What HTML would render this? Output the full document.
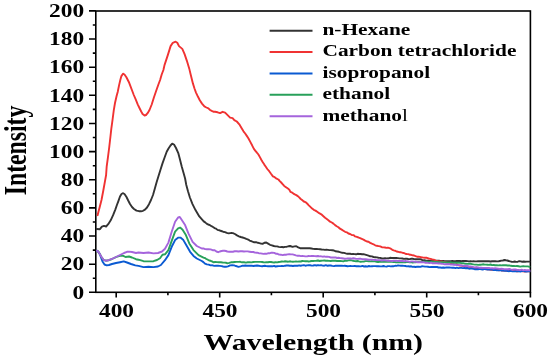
<!DOCTYPE html>
<html><head><meta charset="utf-8"><style>
html,body{margin:0;padding:0;background:#fff;width:550px;height:359px;overflow:hidden}
svg{display:block}
.t{font-family:"Liberation Serif","Times New Roman",serif;font-weight:bold;fill:#000}
</style></head><body>
<svg width="550" height="359" viewBox="0 0 550 359">
<rect x="95.8" y="11.0" width="434.6" height="281.3" fill="none" stroke="#000" stroke-width="1.6"/>
<path d="M89.0 292.3H95.8 M92.8 278.2H95.8 M89.0 264.2H95.8 M92.8 250.1H95.8 M89.0 236.0H95.8 M92.8 222.0H95.8 M89.0 207.9H95.8 M92.8 193.8H95.8 M89.0 179.7H95.8 M92.8 165.7H95.8 M89.0 151.6H95.8 M92.8 137.5H95.8 M89.0 123.5H95.8 M92.8 109.4H95.8 M89.0 95.3H95.8 M92.8 81.2H95.8 M89.0 67.2H95.8 M92.8 53.1H95.8 M89.0 39.0H95.8 M92.8 25.0H95.8 M89.0 10.9H95.8 M116.2 292.3V297.6 M219.7 292.3V297.6 M323.2 292.3V297.6 M426.7 292.3V297.6 M530.4 292.3V297.6 M167.9 292.3V295.2 M271.4 292.3V295.2 M374.9 292.3V295.2 M478.4 292.3V295.2" stroke="#000" stroke-width="1.6" fill="none"/>
<polyline points="96.7,229.0 99.9,229.2 101.9,226.6 104.0,225.9 106.1,226.5 108.2,224.2 110.7,220.3 113.1,215.2 115.3,209.6 117.0,204.8 118.3,201.3 120.0,196.5 121.5,194.0 122.8,193.2 124.5,194.0 126.5,197.0 128.2,200.5 130.0,204.0 132.0,207.0 134.0,209.0 136.5,210.6 139.0,211.2 141.0,211.3 143.0,210.8 145.0,209.6 147.0,207.5 149.0,204.2 151.0,200.0 153.0,195.0 155.0,188.0 156.6,182.3 158.3,176.8 160.4,170.0 162.5,163.4 164.6,157.5 166.7,151.7 168.5,148.5 170.5,145.5 172.2,143.7 174.0,144.5 176.0,148.0 178.4,153.4 180.1,160.0 181.8,166.8 183.5,172.7 185.1,178.5 186.3,185.0 188.0,191.3 189.9,197.5 192.4,203.8 195.5,210.1 199.3,216.4 203.7,221.4 205.2,222.4 206.6,223.6 208.1,224.5 210.0,225.2 211.5,226.2 213.0,227.0 214.5,228.1 216.0,228.6 217.5,229.9 219.4,230.3 221.2,231.0 223.1,231.7 225.0,232.1 226.8,232.9 228.7,233.4 230.1,233.1 231.5,233.0 232.9,233.1 234.9,234.0 237.0,235.4 238.9,236.3 240.7,237.0 242.6,237.5 244.5,238.1 246.3,238.9 248.2,239.6 249.6,240.6 251.0,241.0 252.4,241.7 254.2,242.3 256.1,242.2 257.9,242.8 259.4,243.1 261.0,243.6 262.5,243.8 264.4,242.8 266.3,242.5 268.1,243.6 270.0,244.8 271.9,245.3 273.8,246.0 275.5,246.4 277.1,246.4 278.8,246.9 280.4,247.1 282.0,247.0 283.5,247.2 285.1,246.9 286.8,246.7 288.4,246.3 290.1,246.0 292.6,246.9 294.5,246.4 296.3,246.3 298.2,247.4 300.1,248.2 301.7,248.2 303.2,248.1 304.8,248.2 306.4,248.2 308.1,248.1 309.7,248.2 311.4,248.5 313.2,248.9 314.9,249.0 316.7,248.9 318.4,249.1 320.0,249.3 321.7,249.5 323.4,249.6 324.9,249.9 326.4,249.7 327.9,249.9 329.3,250.1 330.8,250.1 332.3,250.3 334.0,250.5 335.6,251.3 337.3,251.5 339.0,251.8 340.7,252.3 342.4,252.8 344.0,252.9 345.7,253.4 347.2,253.7 348.7,253.6 350.1,253.8 351.6,254.1 353.1,253.9 354.6,254.1 356.1,254.3 357.6,253.8 359.1,254.0 360.5,254.0 362.0,254.3 363.5,254.1 365.2,254.6 366.9,255.1 368.5,255.6 370.2,256.3 371.9,256.4 373.5,257.0 375.2,257.2 376.9,257.4 378.5,257.7 380.2,257.9 381.9,258.5 383.5,258.5 385.1,258.3 386.8,258.4 388.4,258.3 390.0,257.8 391.6,258.0 393.2,258.0 394.8,257.9 396.3,258.0 397.9,258.1 399.5,258.4 401.0,258.4 402.4,258.5 403.9,258.9 405.3,258.8 406.8,258.8 408.3,259.0 409.7,259.1 411.2,258.8 412.6,258.8 414.1,259.1 415.6,259.2 417.0,259.1 418.4,259.3 419.9,259.1 421.4,259.5 422.8,260.5 424.2,260.3 425.7,260.5 427.2,260.6 428.6,260.8 430.1,261.0 431.5,260.8 433.0,260.8 434.4,261.0 435.9,260.8 437.4,260.6 438.8,260.6 440.3,261.0 441.7,261.0 443.2,261.0 444.7,261.2 446.2,261.2 447.8,261.1 449.3,261.1 450.8,261.2 452.3,260.9 453.8,261.2 455.3,261.2 456.9,261.0 458.4,261.0 459.9,261.0 461.4,261.2 462.9,260.9 464.4,261.0 465.9,260.9 467.5,261.1 469.0,261.4 470.5,261.2 472.0,261.4 473.5,261.3 475.0,261.4 476.6,261.4 478.1,261.2 479.7,261.3 481.2,261.2 482.8,261.1 484.3,261.2 485.9,261.1 487.5,261.3 489.0,261.3 490.6,261.5 492.1,261.2 493.7,261.2 495.2,261.1 496.8,261.4 498.3,261.4 499.8,261.0 501.4,260.6 502.9,260.5 504.4,260.0 505.9,260.3 507.3,260.5 508.8,261.0 510.3,261.4 511.7,261.7 513.2,261.9 514.7,261.5 516.2,261.9 517.8,261.7 519.3,261.2 520.8,261.4 522.2,261.7 523.7,261.5 525.1,261.8 526.6,261.6 528.0,261.6 529.5,261.6" fill="none" stroke="#333333" stroke-width="1.9" stroke-linejoin="round" stroke-linecap="round"/>
<polyline points="97.6,215.2 98.6,211.3 99.6,207.5 101.5,200.0 103.4,190.0 105.0,181.2 106.1,175.0 106.7,166.3 107.9,157.6 109.2,147.5 110.4,137.0 111.3,128.9 112.5,120.1 113.8,110.1 115.0,103.0 116.6,96.0 117.7,92.0 119.1,85.1 120.3,80.0 121.4,76.1 123.0,73.7 124.5,74.5 126.4,77.3 129.2,82.8 131.9,90.0 133.8,95.0 135.8,99.7 137.7,104.3 139.7,108.5 141.2,111.5 142.6,113.9 144.6,115.5 146.0,115.0 147.6,113.2 149.5,110.0 151.7,104.5 153.9,97.5 156.2,90.8 158.4,84.5 160.1,80.0 161.7,74.5 163.4,70.0 164.5,65.1 167.8,55.1 170.6,46.1 172.8,42.8 175.6,41.7 177.3,42.8 179.0,46.1 182.3,48.9 184.5,53.9 186.8,60.6 189.5,69.6 190.6,74.2 192.9,83.4 194.4,88.2 196.0,92.6 198.0,96.8 199.8,100.3 202.0,103.6 204.4,106.4 206.4,107.5 208.4,108.4 210.1,110.0 211.7,110.9 213.4,111.7 215.1,111.8 217.6,112.3 220.1,113.1 222.6,111.8 225.1,112.6 227.6,115.1 230.1,117.6 232.6,118.1 234.3,120.1 236.8,121.5 239.3,124.3 241.8,128.5 243.5,131.3 245.2,133.5 246.8,135.9 248.5,138.5 250.3,141.9 252.1,145.3 253.9,148.9 255.4,150.8 256.9,152.7 258.4,154.5 259.9,157.1 261.3,159.7 262.8,162.3 264.3,164.6 265.8,166.7 267.3,169.0 269.2,171.2 271.0,173.8 272.9,176.4 274.7,177.2 276.6,178.7 278.4,179.5 279.8,181.1 281.2,182.5 282.6,184.1 284.0,185.7 285.4,186.9 286.8,187.7 288.2,188.7 289.6,190.2 290.4,191.8 291.9,192.4 293.4,193.6 294.8,194.4 296.3,195.1 297.8,196.1 299.2,197.4 300.7,199.0 302.1,200.1 303.8,201.5 305.4,202.1 307.1,203.5 308.8,205.3 310.4,206.9 312.1,208.5 313.8,209.8 315.5,210.6 317.2,211.8 319.2,213.2 321.3,214.3 323.4,216.2 325.1,217.8 326.8,219.0 328.4,220.2 330.1,221.7 331.8,222.5 333.4,223.6 335.1,225.1 336.7,226.2 338.4,227.2 340.0,228.7 341.7,229.6 343.4,230.7 345.1,231.8 346.8,232.3 348.4,233.5 350.1,234.0 351.8,235.0 353.5,235.1 355.1,236.4 356.8,236.9 358.5,237.5 360.1,238.2 361.8,238.9 363.5,239.6 365.2,240.6 366.9,241.5 368.5,241.8 370.2,242.9 371.9,243.7 373.5,244.3 375.2,245.3 376.9,245.8 378.5,246.1 380.2,246.4 381.9,247.2 383.5,247.4 385.0,247.5 386.4,247.9 387.9,247.7 389.4,248.2 390.8,248.7 392.3,249.8 393.7,250.4 395.2,250.7 396.6,251.5 398.1,251.8 399.6,252.2 401.0,252.3 402.4,252.7 403.9,253.0 405.3,253.7 406.8,254.0 408.2,254.1 409.7,254.7 411.1,254.8 412.6,255.3 414.1,255.5 415.5,256.2 417.0,256.7 418.4,256.7 419.9,256.9 421.4,257.3 423.2,257.6 425.0,257.7 426.8,257.8 428.6,258.5 430.5,258.9 432.3,259.5 434.1,259.8 435.9,260.6 438.6,261.5 440.1,261.4 441.7,261.4 443.2,261.8 444.7,262.1 446.1,262.4 447.6,262.8 449.1,262.6 450.5,263.1 452.0,263.5 453.6,264.1 455.1,264.4 456.7,264.3 458.2,265.1 459.8,265.6 461.4,265.6 462.9,266.0 464.5,266.5 466.0,266.4 467.5,267.1 469.0,267.1 470.5,267.2 472.0,267.5 473.5,267.7 475.0,268.0 476.5,267.8 478.0,268.1 479.5,268.5 481.0,268.9 482.5,268.9 484.0,268.9 485.5,269.1 487.0,269.2 488.5,269.4 490.0,269.5 491.5,269.9 493.0,269.5 494.5,270.0 496.0,270.1 497.5,269.7 499.0,270.3 500.5,269.9 502.0,270.5 503.5,270.6 505.0,270.5 506.4,270.9 507.8,270.8 509.2,270.8 510.6,270.7 512.0,270.7 513.5,271.0 514.9,270.6 516.3,271.2 517.7,271.3 519.1,271.1 520.5,270.8 521.9,271.2 523.4,271.3 524.9,271.6 526.5,271.4 528.0,271.4 529.5,271.4" fill="none" stroke="#f03232" stroke-width="1.9" stroke-linejoin="round" stroke-linecap="round"/>
<polyline points="97.0,250.8 98.2,251.6 99.5,253.5 101.0,257.5 102.5,261.5 104.5,264.5 106.7,265.4 109.0,265.0 112.0,264.0 116.0,263.0 120.0,262.2 123.7,261.4 127.0,262.5 131.0,264.0 135.3,265.4 138.5,265.9 143.5,267.1 148.5,266.8 153.5,267.1 158.0,266.5 160.9,265.0 165.0,260.2 168.4,255.1 171.7,246.8 175.1,240.1 178.4,237.6 180.4,237.6 183.4,240.1 186.8,246.0 190.1,251.8 193.5,255.9 196.8,258.5 201.8,261.0 203.4,262.1 205.0,263.7 206.9,264.4 208.7,264.6 210.6,265.4 212.4,265.3 214.3,265.9 216.1,265.7 218.0,265.8 219.8,265.9 221.7,266.1 223.1,266.5 224.5,266.8 225.9,266.8 228.0,266.4 230.1,265.4 232.1,265.3 234.2,265.4 235.6,266.0 237.0,266.3 238.4,266.8 240.5,266.3 242.6,265.7 244.0,265.7 245.4,265.5 246.8,265.8 248.2,265.6 249.6,265.7 251.4,265.6 253.3,266.0 255.1,265.7 257.0,265.5 258.8,265.8 260.7,266.1 262.1,266.2 263.5,266.0 264.9,265.8 266.3,266.1 267.9,266.2 269.4,266.2 270.9,266.1 272.5,266.3 274.1,265.9 275.6,266.5 277.2,266.3 278.8,266.1 280.4,266.1 282.0,266.0 283.5,266.1 285.1,265.7 286.7,265.5 288.2,265.5 289.8,265.7 291.4,265.7 292.9,266.0 294.5,265.7 296.0,265.8 297.6,265.7 299.2,265.4 300.7,265.7 302.3,265.4 303.9,265.2 305.4,265.7 307.0,265.4 308.5,265.3 310.1,265.3 311.7,265.6 313.2,265.5 314.8,265.1 316.4,265.5 318.0,265.1 319.5,265.4 321.1,265.2 322.7,265.6 324.3,265.7 325.9,265.2 327.5,265.8 329.1,265.5 330.7,265.5 332.3,265.9 333.9,266.1 335.5,265.8 337.1,265.8 338.6,265.8 340.2,265.8 341.8,265.7 343.4,265.9 344.8,265.8 346.2,266.0 347.6,266.2 349.0,266.1 350.4,266.0 351.8,266.1 353.2,266.1 354.6,265.9 356.2,266.2 357.8,266.1 359.4,266.3 360.9,266.4 362.5,265.9 364.1,266.5 365.7,266.3 367.3,266.6 368.9,266.0 370.5,266.4 372.1,266.2 373.7,266.1 375.3,266.1 376.9,266.3 378.5,266.1 380.1,266.4 381.8,266.4 383.4,266.0 385.0,266.4 386.5,266.6 387.9,266.1 389.4,266.1 390.8,266.4 392.3,266.1 393.7,266.2 395.2,265.8 396.6,265.9 398.1,265.4 399.5,265.6 401.0,265.8 402.4,265.7 403.9,265.9 405.3,266.0 406.8,266.4 408.3,266.2 409.7,266.5 411.2,266.3 412.6,266.9 414.1,266.7 415.7,267.0 417.2,266.6 418.8,266.7 420.3,266.9 421.9,266.3 423.4,266.4 425.0,266.6 426.5,266.6 428.0,266.8 429.6,267.1 431.1,267.0 432.6,267.0 434.1,267.0 435.6,267.0 437.1,267.0 438.6,267.5 440.2,267.5 441.7,267.7 443.2,267.5 444.7,267.8 446.2,267.4 447.8,267.5 449.3,267.4 450.8,267.6 452.3,267.7 453.8,267.7 455.3,268.1 456.9,267.7 458.4,268.1 459.9,267.9 461.4,267.9 462.9,268.1 464.4,268.0 465.9,268.2 467.5,268.0 469.0,268.7 470.5,268.5 472.0,268.5 473.5,268.9 475.0,269.2 476.6,269.2 478.1,269.2 479.7,268.9 481.2,269.2 482.8,269.5 484.3,268.9 485.9,269.2 487.5,269.6 489.0,269.6 490.6,269.6 492.1,269.6 493.7,270.0 495.2,269.9 496.8,270.3 498.4,270.1 499.9,270.2 501.5,270.6 503.0,270.5 504.6,270.7 506.1,270.6 507.7,271.0 509.3,271.2 510.8,270.8 512.4,271.4 513.9,271.4 515.5,271.1 517.0,271.2 518.6,271.2 520.2,271.6 521.7,271.0 523.3,271.0 524.8,271.4 526.4,271.5 527.9,271.2 529.5,271.4" fill="none" stroke="#0a5ad2" stroke-width="1.9" stroke-linejoin="round" stroke-linecap="round"/>
<polyline points="97.0,250.8 98.2,251.6 99.5,253.5 101.5,257.0 103.5,259.8 105.8,260.7 108.5,260.3 112.0,259.0 116.5,256.8 120.0,255.8 122.8,255.6 125.5,257.0 129.0,256.5 132.0,257.5 136.0,259.2 138.5,259.7 143.5,261.2 148.5,261.4 153.5,261.2 157.0,260.0 160.0,258.2 162.5,254.8 165.0,254.3 168.4,250.1 171.7,240.9 175.1,231.7 178.1,228.4 180.1,227.6 182.6,229.7 185.9,235.1 189.3,243.4 193.5,250.1 198.5,255.1 203.5,257.6 204.9,258.0 206.3,259.0 207.8,259.7 209.2,260.5 210.6,260.8 212.0,261.4 213.4,262.3 215.2,262.0 217.1,262.1 218.9,262.3 220.8,262.3 222.6,262.5 224.5,262.6 225.9,262.7 227.3,263.3 229.2,262.9 231.0,262.3 232.9,262.3 234.7,262.0 236.6,261.9 238.4,261.9 240.3,261.8 242.1,262.3 244.0,262.3 245.9,262.6 247.7,262.3 249.6,262.3 251.4,262.4 253.3,262.0 255.1,261.9 257.0,261.9 258.8,261.9 260.7,261.9 262.1,262.0 263.5,262.3 264.9,262.4 266.3,262.3 267.9,262.3 269.4,262.0 270.9,262.0 272.5,262.3 274.1,262.5 275.6,262.1 277.2,262.4 278.8,262.0 280.4,261.8 282.0,261.5 283.5,261.6 285.1,261.3 286.7,261.5 288.2,261.7 289.8,261.3 291.3,261.6 292.9,261.7 294.5,261.6 296.0,261.5 297.6,261.6 299.2,261.4 300.8,261.5 302.3,261.0 303.9,261.1 305.4,261.3 307.0,261.1 308.6,261.5 310.1,261.3 311.7,261.0 313.2,261.0 314.8,260.9 316.4,260.8 318.0,260.5 319.5,261.0 321.1,260.7 322.7,260.6 324.3,260.5 325.9,260.8 327.5,260.8 329.1,260.9 330.7,261.0 332.3,260.7 333.9,260.7 335.5,260.7 337.1,261.0 338.6,261.0 340.2,261.0 341.8,261.1 343.4,261.4 345.1,260.7 346.8,260.8 348.4,260.4 350.1,260.1 351.6,260.4 353.1,260.8 354.6,261.1 356.0,261.2 357.5,261.0 359.0,261.4 360.6,261.7 362.2,261.6 363.8,261.6 365.4,261.1 367.0,261.1 368.6,261.2 370.2,261.4 371.8,261.2 373.4,261.4 375.0,261.4 376.5,261.7 378.1,262.0 379.7,261.8 381.3,261.9 382.8,261.9 384.2,261.9 385.6,261.9 387.1,261.9 388.6,261.5 390.0,261.8 391.6,261.6 393.2,262.0 394.8,262.0 396.3,262.4 397.9,262.3 399.5,262.3 401.0,262.0 402.4,262.3 403.9,262.2 405.3,262.2 406.8,262.1 408.3,262.1 409.7,262.2 411.2,262.0 412.6,262.6 414.1,262.3 415.7,262.2 417.2,262.1 418.8,261.9 420.3,261.9 421.9,262.0 423.4,261.8 425.0,261.8 426.5,261.6 428.0,262.0 429.6,262.0 431.1,261.7 432.6,261.6 434.1,261.8 435.6,262.0 437.1,261.8 438.6,262.2 440.2,262.1 441.7,262.3 443.2,262.3 444.7,262.4 446.2,262.5 447.8,262.5 449.3,262.6 450.8,262.3 452.3,262.7 453.8,262.7 455.3,262.8 456.9,262.8 458.4,262.8 459.9,262.8 461.4,263.2 462.9,263.1 464.4,263.5 465.9,263.7 467.5,263.9 469.0,263.7 470.5,263.8 472.0,264.1 473.5,264.4 475.0,264.6 476.6,264.6 478.1,264.9 479.7,264.8 481.2,264.7 482.8,264.3 484.3,264.5 485.9,264.6 487.5,264.7 489.0,264.9 490.6,264.5 492.1,265.1 493.7,265.0 495.2,265.3 496.8,265.2 498.4,265.4 499.9,265.2 501.5,265.4 503.0,265.2 504.6,265.2 506.1,265.3 507.7,265.5 509.3,265.4 510.8,265.8 512.4,266.0 513.9,266.0 515.5,266.1 517.0,266.0 518.6,266.3 520.2,266.6 521.7,266.4 523.3,266.2 524.8,266.4 526.4,266.4 527.9,266.4 529.5,266.8" fill="none" stroke="#28a05a" stroke-width="1.9" stroke-linejoin="round" stroke-linecap="round"/>
<polyline points="97.0,250.8 98.2,251.6 99.5,253.5 101.5,257.0 103.5,259.8 105.8,260.7 108.5,260.2 112.0,258.8 116.0,257.0 120.0,255.0 124.0,253.0 127.0,251.8 129.0,251.6 132.0,252.0 136.0,253.0 138.5,252.5 143.5,253.0 148.5,252.5 153.5,253.4 158.0,253.0 162.0,251.5 165.0,248.8 168.4,242.6 171.7,231.7 175.1,221.7 178.1,217.5 179.8,217.0 181.8,220.0 185.1,225.1 188.4,233.4 192.6,241.8 196.8,246.0 201.8,248.5 203.4,248.4 205.1,249.1 206.7,249.2 208.6,249.1 210.6,249.4 212.6,250.2 214.7,250.3 216.4,251.5 218.2,252.2 219.8,251.5 221.5,251.0 223.1,250.8 224.5,250.7 225.9,251.0 227.3,251.5 229.2,251.7 231.0,251.6 232.9,251.7 234.7,251.3 236.6,251.2 238.4,251.5 240.3,251.2 242.1,251.2 244.0,251.5 245.9,251.4 247.7,251.4 249.6,251.7 251.4,252.0 253.3,252.0 255.1,252.6 257.0,252.7 258.8,253.2 260.7,253.4 262.1,253.6 263.5,253.9 264.9,253.8 266.3,253.8 267.9,253.3 269.4,253.3 270.9,252.8 272.5,252.8 274.2,252.9 275.8,253.7 277.5,253.8 279.2,254.6 280.9,254.7 282.6,255.1 284.3,254.8 285.9,254.7 287.6,254.4 289.3,254.1 290.9,254.4 292.6,254.4 294.3,254.9 295.9,255.4 297.6,255.7 299.2,255.7 300.8,256.1 302.3,256.0 303.9,256.1 305.4,256.4 307.0,256.4 308.6,256.0 310.1,256.1 311.7,255.9 313.2,256.0 314.8,256.1 316.4,256.2 318.0,256.0 319.5,256.4 321.1,256.3 322.7,256.7 324.3,256.4 325.9,256.8 327.5,256.8 329.1,256.9 330.7,257.5 332.3,257.4 333.9,257.5 335.5,257.4 337.1,258.0 338.6,257.8 340.2,258.1 341.8,258.2 343.4,258.5 344.8,258.8 346.2,258.6 347.6,258.4 349.0,258.5 350.4,258.5 351.8,258.6 353.2,258.3 354.6,258.5 356.2,258.9 357.8,258.9 359.4,258.7 360.9,258.8 362.5,259.2 364.1,259.2 365.7,259.2 367.3,259.5 368.9,259.8 370.5,259.6 372.1,259.6 373.7,259.9 375.3,260.0 376.9,260.1 378.5,260.1 380.1,260.1 381.8,260.6 383.4,260.4 385.0,260.3 386.5,260.6 387.9,260.7 389.4,260.8 390.8,260.9 392.3,261.0 393.7,260.7 395.2,260.7 396.6,260.8 398.1,260.9 399.5,261.0 401.0,260.9 402.4,261.0 403.9,261.3 405.3,260.9 406.8,261.3 408.3,261.4 409.7,261.8 411.2,261.4 412.6,261.4 414.1,261.7 415.7,261.7 417.2,262.2 418.8,262.3 420.3,262.2 421.9,262.1 423.4,262.2 425.0,262.7 426.5,262.6 428.0,262.9 429.6,263.1 431.1,262.7 432.6,263.4 434.1,263.2 435.6,263.2 437.1,263.2 438.6,263.5 440.2,263.5 441.7,263.7 443.2,263.9 444.7,264.3 446.2,264.1 447.8,264.3 449.3,264.1 450.8,264.6 452.3,264.5 453.8,264.7 455.3,264.7 456.9,265.1 458.4,265.1 459.9,265.1 461.4,265.5 462.9,265.9 464.4,265.8 465.9,265.7 467.5,266.0 469.0,266.5 470.5,266.4 472.0,266.6 473.5,267.1 475.0,267.4 476.6,267.2 478.1,267.4 479.7,267.8 481.2,267.8 482.8,267.9 484.3,267.9 485.9,267.9 487.5,267.9 489.0,267.9 490.6,268.4 492.1,268.2 493.7,268.5 495.2,268.3 496.8,268.4 498.4,268.6 499.9,268.9 501.5,268.6 503.0,268.9 504.6,269.3 506.1,269.1 507.7,269.2 509.3,269.0 510.8,269.4 512.4,269.7 513.9,269.5 515.5,269.4 517.0,269.9 518.6,269.9 520.2,270.1 521.7,269.7 523.3,270.3 524.8,269.9 526.4,270.3 527.9,270.3 529.5,270.3" fill="none" stroke="#a564dc" stroke-width="1.9" stroke-linejoin="round" stroke-linecap="round"/>
<text class="t" font-size="18" text-anchor="end" transform="translate(84.1 298.5) scale(1.3 1)">0</text>
<text class="t" font-size="18" text-anchor="end" transform="translate(84.1 270.4) scale(1.3 1)">20</text>
<text class="t" font-size="18" text-anchor="end" transform="translate(84.1 242.2) scale(1.3 1)">40</text>
<text class="t" font-size="18" text-anchor="end" transform="translate(84.1 214.1) scale(1.3 1)">60</text>
<text class="t" font-size="18" text-anchor="end" transform="translate(84.1 185.9) scale(1.3 1)">80</text>
<text class="t" font-size="18" text-anchor="end" transform="translate(84.1 157.8) scale(1.3 1)">100</text>
<text class="t" font-size="18" text-anchor="end" transform="translate(84.1 129.7) scale(1.3 1)">120</text>
<text class="t" font-size="18" text-anchor="end" transform="translate(84.1 101.5) scale(1.3 1)">140</text>
<text class="t" font-size="18" text-anchor="end" transform="translate(84.1 73.4) scale(1.3 1)">160</text>
<text class="t" font-size="18" text-anchor="end" transform="translate(84.1 45.2) scale(1.3 1)">180</text>
<text class="t" font-size="18" text-anchor="end" transform="translate(84.1 17.1) scale(1.3 1)">200</text>
<text class="t" font-size="18" text-anchor="middle" transform="translate(116.5 316.6) scale(1.3 1)">400</text>
<text class="t" font-size="18" text-anchor="middle" transform="translate(220.0 316.6) scale(1.3 1)">450</text>
<text class="t" font-size="18" text-anchor="middle" transform="translate(323.5 316.6) scale(1.3 1)">500</text>
<text class="t" font-size="18" text-anchor="middle" transform="translate(427.0 316.6) scale(1.3 1)">550</text>
<text class="t" font-size="18" text-anchor="middle" transform="translate(530.5 316.6) scale(1.3 1)">600</text>
<path d="M269.6 30.7H312.5" stroke="#333333" stroke-width="2"/>
<text class="t" font-size="16" transform="translate(322.5 35.0) scale(1.335 1)">n-Hexane</text>
<path d="M269.6 52.1H312.5" stroke="#f03232" stroke-width="2"/>
<text class="t" font-size="16" transform="translate(322.5 56.4) scale(1.335 1)">Carbon tetrachloride</text>
<path d="M269.6 73.4H312.5" stroke="#0a5ad2" stroke-width="2"/>
<text class="t" font-size="16" transform="translate(322.5 77.8) scale(1.335 1)">isopropanol</text>
<path d="M269.6 94.8H312.5" stroke="#28a05a" stroke-width="2"/>
<text class="t" font-size="16" transform="translate(322.5 99.2) scale(1.335 1)">ethanol</text>
<path d="M269.6 116.2H312.5" stroke="#a564dc" stroke-width="2"/>
<text class="t" font-size="16" transform="translate(322.5 120.6) scale(1.335 1)">methano<tspan font-weight="normal">l</tspan></text>
<text class="t" font-size="24" transform="translate(203.5 350.3) scale(1.243 1)">Wavelength (nm)</text>
<text class="t" transform="translate(25.8 195.3) scale(1.314 1) rotate(-90)" font-size="23.75">Intensity</text>
</svg>
</body></html>
